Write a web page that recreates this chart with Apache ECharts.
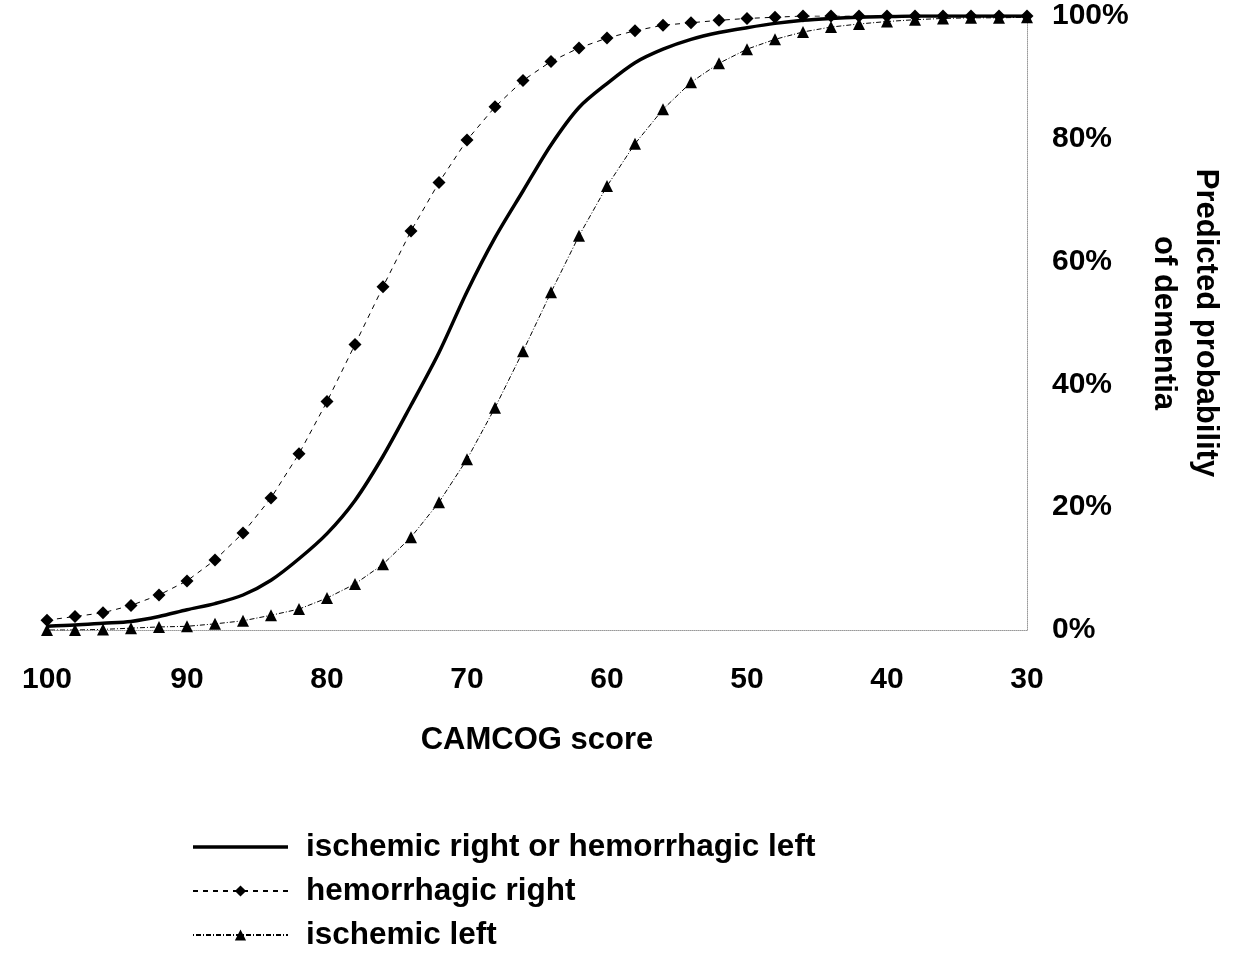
<!DOCTYPE html>
<html>
<head>
<meta charset="utf-8">
<script src="https://cdn.jsdelivr.net/npm/echarts@6/dist/echarts.min.js"></script>
<style>
  html, body { margin: 0; padding: 0; background: #fff; }
  #chart { width: 1235px; height: 969px; }
</style>
</head>
<body>
<div id="chart"></div>
<script>
const scores = [100, 98, 96, 94, 92, 90, 88, 86, 84, 82, 80, 78, 76, 74, 72, 70, 68, 66,
  64, 62, 60, 58, 56, 54, 52, 50, 48, 46, 44, 42, 40, 38, 36, 34, 32, 30];

// ischemic right or hemorrhagic left (solid line)
const ischemicRightHemLeft = [0.6, 0.8, 1.1, 1.4, 2.2, 3.3, 4.3, 5.7, 8.1, 11.6, 15.7, 21.1,
  28.3, 36.6, 45.2, 55.1, 63.9, 71.5, 79.0, 85.1, 89.0, 92.4, 94.6, 96.2, 97.3, 98.1,
  98.8, 99.3, 99.6, 99.8, 99.9, 100, 100, 100, 100, 100];

// hemorrhagic right (diamonds)
const hemorrhagicRight = [1.6, 2.2, 2.8, 4.0, 5.7, 8.0, 11.4, 15.8, 21.5, 28.7, 37.2, 46.5,
  55.9, 65.0, 72.9, 79.8, 85.2, 89.5, 92.6, 94.8, 96.4, 97.6, 98.5, 98.9, 99.3, 99.6,
  99.8, 100, 100, 100, 100, 100, 100, 100, 100, 100];

// ischemic left (triangles)
const ischemicLeft = [0, 0, 0.1, 0.3, 0.5, 0.6, 1.0, 1.5, 2.4, 3.4, 5.2, 7.5, 10.7, 15.1,
  20.8, 27.8, 36.2, 45.4, 55.0, 64.2, 72.3, 79.2, 84.8, 89.2, 92.3, 94.6, 96.2, 97.4,
  98.2, 98.7, 99.1, 99.4, 99.6, 99.7, 99.7, 99.8];

const seriesNames = ["ischemic right or hemorrhagic left", "hemorrhagic right", "ischemic left"];

function pairs(values) {
  return scores.map((s, i) => [s, values[i]]);
}

const font = "'Liberation Sans', Arial, sans-serif";
const chart = echarts.init(document.getElementById("chart"));

const options = {
  backgroundColor: "#fff",
  animation: false,
  grid: { left: 47, right: 208, top: 16, bottom: 339, outerBoundsMode: "none", containLabel: false },
  xAxis: {
    type: "value",
    inverse: true,
    min: 30,
    max: 100,
    interval: 10,
    name: "CAMCOG score",
    nameLocation: "middle",
    nameGap: 95,
    nameTextStyle: { fontFamily: font, fontWeight: "bold", fontSize: 31, color: "#000" },
    axisLine: { lineStyle: { color: "#999", type: "dotted", width: 1 } },
    axisTick: { show: false },
    splitLine: { show: false },
    axisLabel: { margin: 35, fontFamily: font, fontWeight: "bold", fontSize: 30, color: "#000" },
  },
  yAxis: {
    type: "value",
    position: "right",
    min: 0,
    max: 100,
    interval: 20,
    name: "Predicted probability\nof dementia",
    nameLocation: "middle",
    nameRotate: -90,
    nameGap: 116,
    nameTextStyle: { fontFamily: font, fontWeight: "bold", fontSize: 31, color: "#000", lineHeight: 42 },
    axisLine: { show: true, lineStyle: { color: "#999", type: "dotted", width: 1 } },
    axisTick: { show: false },
    splitLine: { show: false },
    axisLabel: {
      margin: 25,
      formatter: "{value}%",
      fontFamily: font,
      fontWeight: "bold",
      fontSize: 30,
      color: "#000",
    },
  },
  legend: {
    orient: "vertical",
    left: 192,
    top: 831,
    padding: 0,
    itemWidth: 95,
    itemHeight: 14,
    itemGap: 12,
    textStyle: {
      fontFamily: font,
      fontWeight: "bold",
      fontSize: 31.5,
      color: "#000",
      lineHeight: 31,
      padding: [0, 0, 0, 13],
    },
    data: [
      { name: seriesNames[0], icon: "path://M0,0 H95 V3.5 H0 Z" },
      seriesNames[1],
      seriesNames[2],
    ],
  },
  series: [
    {
      name: seriesNames[0],
      type: "line",
      data: pairs(ischemicRightHemLeft),
      smooth: 0.3,
      showSymbol: false,
      symbol: "none",
      lineStyle: { color: "#000", width: 3.5 },
      itemStyle: { color: "#000" },
      z: 2,
    },
    {
      name: seriesNames[1],
      type: "line",
      data: pairs(hemorrhagicRight),
      symbol: "diamond",
      symbolSize: 13,
      lineStyle: { color: "#000", width: 1, type: [5, 5] },
      itemStyle: { color: "#000" },
      z: 3,
    },
    {
      name: seriesNames[2],
      type: "line",
      data: pairs(ischemicLeft),
      symbol: "triangle",
      symbolSize: 12,
      lineStyle: { color: "#000", width: 1, type: [1, 2, 5, 2] },
      itemStyle: { color: "#000" },
      z: 3,
    },
  ],
};

chart.setOption(options);
</script>
</body>
</html>
